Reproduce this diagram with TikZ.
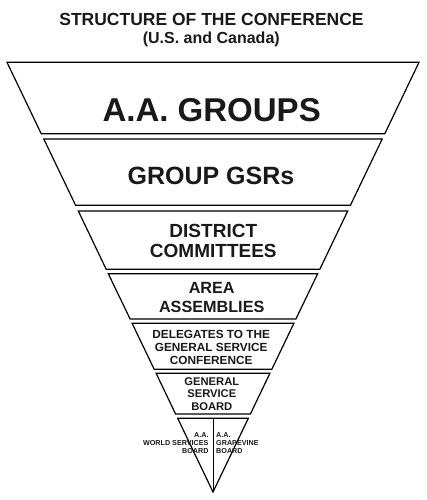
\documentclass[tikz,border=0pt]{standalone}
\usepackage{fontspec}
\setmainfont{Liberation Sans}
\begin{document}
\begin{tikzpicture}[x=1pt,y=-1pt,
  layer/.style={draw=black, line width=1.2pt, line join=miter},
  lbl/.style={inner sep=0pt, anchor=base, align=center, text=black!90, font=\bfseries},
]
\useasboundingbox (0,0) rectangle (427,500);
% layers
\draw[layer] (7,62.3) -- (419,62.3) -- (384.8,133.7) -- (41.2,133.7) -- cycle;
\draw[layer] (43.8,139) -- (382.2,139) -- (350.4,205.3) -- (75.6,205.3) -- cycle;
\draw[layer] (78.3,211) -- (347.7,211) -- (319.8,269.3) -- (106.2,269.3) -- cycle;
\draw[layer] (108.3,273.7) -- (317.7,273.7) -- (295.9,319) -- (130.1,319) -- cycle;
\draw[layer] (132.1,323.3) -- (293.9,323.3) -- (271.8,369.3) -- (154.2,369.3) -- cycle;
\draw[layer] (156.1,373.3) -- (269.9,373.3) -- (250.4,414) -- (175.6,414) -- cycle;
\coordinate (t7) at (213,418.3);
\coordinate (apex) at (213,492);
\draw[layer] (177.7,418.3) -- (248.3,418.3) -- (apex) -- cycle;
\draw[line width=1.0pt] (t7) -- (apex);
% texts (multi-line nodes: base = last line's baseline)
\node[lbl, font=\bfseries\fontsize{17.5}{20}\selectfont] (title) at (211.5,26) {STRUCTURE OF THE CONFERENCE};
\node[lbl, font=\bfseries\fontsize{16}{19}\selectfont] (sub) at (211.3,43.5) {(U.S. and Canada)};
\node[lbl, font=\bfseries\fontsize{33}{38}\selectfont] (groups) at (211.7,121.7) {A.A. GROUPS};
\node[lbl, font=\bfseries\fontsize{25}{29}\selectfont] (gsrs) at (210.9,184.3) {GROUP GSRs};
\node[lbl, font=\bfseries\fontsize{19}{20.4}\selectfont] (district) at (213.3,257.7) {DISTRICT\\COMMITTEES};
\node[lbl, font=\bfseries\fontsize{16.2}{19}\selectfont] (area) at (211.7,312.3) {AREA\\ASSEMBLIES};
\node[lbl, font=\bfseries\fontsize{11.8}{13}\selectfont] (delegates) at (211.2,364.3) {DELEGATES TO THE\\GENERAL SERVICE\\CONFERENCE};
\node[lbl, font=\bfseries\fontsize{11.2}{12.2}\selectfont] (gsb) at (211.8,410) {GENERAL\\SERVICE\\BOARD};
\node[lbl, anchor=base east, align=right, font=\bfseries\fontsize{7.2}{7.8}\selectfont] (wsb) at (208.7,453.3) {A.A.\\WORLD SERVICES\\BOARD};
\node[lbl, anchor=base west, align=left, font=\bfseries\fontsize{7.2}{7.8}\selectfont] (grapevine) at (216,453.3) {A.A.\\GRAPEVINE\\BOARD};
\end{tikzpicture}
\end{document}
